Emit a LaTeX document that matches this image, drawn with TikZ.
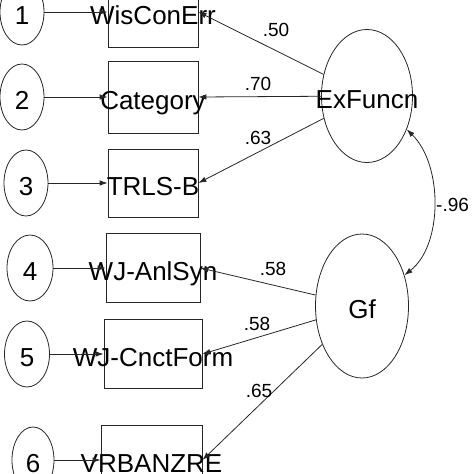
\documentclass[tikz,border=0pt]{standalone}
\usepackage{fontspec}
\setmainfont{Liberation Sans}
\usetikzlibrary{arrows.meta,shapes.geometric}
\newcommand{\zw}[1]{\makebox[0pt]{#1}}
\begin{document}
\begin{tikzpicture}[x=1pt,y=-1pt,
  every node/.style={text=black},
  big/.style={font=\fontsize{26}{28}\selectfont, text height=25pt, text depth=0pt, inner sep=0pt},
  obs/.style={big, draw=black!85, line width=0.8pt, rectangle},
  err/.style={big, draw=black!85, line width=0.8pt, ellipse, minimum width=44pt, minimum height=66pt},
  lat/.style={big, draw=black!85, line width=0.8pt, ellipse},
  arr/.style={draw=black!85, line width=0.8pt, -{Latex[length=8pt,width=5.5pt]}},
  darr/.style={draw=black!85, line width=0.8pt, {Latex[length=8pt,width=5.5pt]}-{Latex[length=8pt,width=5.5pt]}},
  coef/.style={font=\fontsize{19}{21}\selectfont, inner sep=0pt}]
\useasboundingbox (0,0) rectangle (474,474);
\clip (0,0) rectangle (474,474);
% observed variables
\node[obs, minimum width=90pt, minimum height=70pt] (b1) at (153,12) {\zw{WisConErr}};
\node[obs, minimum width=90pt, minimum height=72pt] (b2) at (153,97) {\zw{Category}};
\node[obs, minimum width=90pt, minimum height=68pt] (b3) at (153,183) {\zw{TRLS-B}};
\node[obs, minimum width=94pt, minimum height=69pt] (b4) at (153,268) {\zw{WJ-AnlSyn}};
\node[obs, minimum width=98pt, minimum height=69pt] (b5) at (153,354) {\zw{WJ-CnctForm}};
\node[obs, minimum width=101pt, minimum height=70pt] (b6) at (151.5,460) {\zw{VRBANZRE}};
% error terms
\node[err] (e1) at (22,12) {\zw{1}};
\node[err] (e2) at (22,97) {\zw{2}};
\node[err] (e3) at (26,183) {\zw{3}};
\node[err, minimum width=46pt] (e4) at (30,268) {\zw{4}};
\node[err, minimum width=45pt] (e5) at (27,354) {\zw{5}};
\node[err, minimum width=42pt] (e6) at (33,460) {\zw{6}};
% latent factors
\node[lat, minimum width=91pt, minimum height=133pt] (f1) at (367,96) {\zw{ExFuncn}};
\node[lat, minimum width=93pt, minimum height=144pt] (f2) at (362,306) {\zw{Gf}};
% error arrows
\draw[arr] (e1) -- (b1);
\draw[arr] (e2) -- (b2);
\draw[arr] (e3) -- (b3);
\draw[arr] (e4) -- (b4);
\draw[arr] (e5) -- (b5);
\draw[arr] (e6) -- (b6);
% loadings
\draw[arr] (f1) -- (b1.east);
\draw[arr] (f1) -- (b2.east);
\draw[arr] (f1) -- (b3.east);
\draw[arr] (f2) -- (b4.east);
\draw[arr] (f2) -- (b5.east);
\draw[arr] (f2) -- (b6.east);
% covariance
\draw[darr] (f1.-40) .. controls (443,165) and (443,245) .. (f2.36);
% coefficients
\node[coef] (c1) at (276,30) {.50};
\node[coef] (c2) at (258,84) {.70};
\node[coef] (c3) at (258,138) {.63};
\node[coef] (c4) at (273,269) {.58};
\node[coef] (c5) at (257,324) {.58};
\node[coef] (c6) at (259,391) {.65};
\node[coef, anchor=west] (c7) at (436,205) {-.96};
\end{tikzpicture}
\end{document}
